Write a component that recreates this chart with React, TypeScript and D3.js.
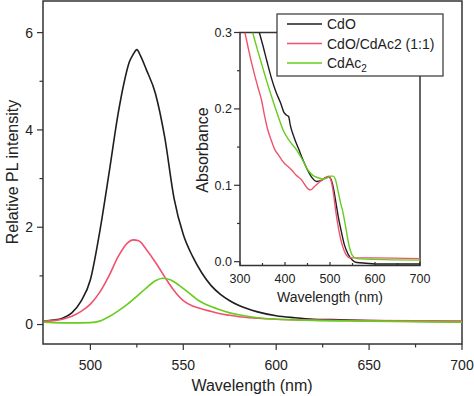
import React from "react";
import * as d3 from "d3";

// main PL spectra (nm, relative intensity)
const plCdO: [number, number][] = [
  [475, 0.07], [480, 0.09], [485, 0.13], [490, 0.24], [495, 0.48], [500, 0.92], [505, 1.9],
  [510, 3.1], [515, 4.35], [518, 4.95], [521, 5.4], [523, 5.55], [525, 5.65], [527, 5.52],
  [530, 5.25], [535, 4.75], [540, 3.85], [545, 2.6], [550, 1.85], [555, 1.4], [560, 1.06],
  [565, 0.8], [570, 0.62], [575, 0.49], [580, 0.39], [590, 0.26], [600, 0.18], [610, 0.14],
  [620, 0.11], [630, 0.1], [650, 0.08], [670, 0.07], [700, 0.06],
];
const plMix: [number, number][] = [
  [475, 0.07], [480, 0.08], [485, 0.11], [490, 0.17], [495, 0.27], [500, 0.42], [505, 0.66],
  [510, 1.0], [515, 1.4], [520, 1.68], [523, 1.74], [526, 1.72], [530, 1.55], [535, 1.28],
  [540, 0.98], [545, 0.7], [550, 0.49], [555, 0.38], [560, 0.32], [565, 0.27], [570, 0.22],
  [575, 0.19], [580, 0.16], [590, 0.13], [600, 0.11], [620, 0.09], [650, 0.08], [700, 0.07],
];
const plCdAc: [number, number][] = [
  [475, 0.05], [480, 0.04], [490, 0.035], [500, 0.04], [505, 0.07], [510, 0.16], [515, 0.28],
  [520, 0.42], [525, 0.58], [530, 0.75], [535, 0.9], [539, 0.95], [543, 0.92], [548, 0.8],
  [553, 0.65], [558, 0.5], [563, 0.4], [570, 0.3], [575, 0.24], [580, 0.2], [590, 0.14],
  [600, 0.11], [620, 0.085], [650, 0.07], [700, 0.05],
];

// inset absorbance spectra (nm, absorbance)
const absCdO: [number, number][] = [
  [343, 0.3], [350, 0.285], [360, 0.262], [370, 0.24], [380, 0.222], [390, 0.208], [398, 0.195],
  [403, 0.192], [408, 0.19], [412, 0.178], [420, 0.163], [430, 0.148], [440, 0.133], [450, 0.12],
  [460, 0.11], [470, 0.105], [480, 0.106], [490, 0.11], [497, 0.111], [502, 0.108], [508, 0.095],
  [513, 0.078], [518, 0.06], [525, 0.04], [532, 0.022], [540, 0.01], [550, 0.002], [560, -0.001],
  [580, -0.002], [600, -0.003], [700, -0.003],
];
const absMix: [number, number][] = [
  [311, 0.3], [320, 0.275], [330, 0.25], [340, 0.228], [348, 0.211], [355, 0.19], [362, 0.172],
  [370, 0.158], [378, 0.146], [385, 0.14], [393, 0.133], [400, 0.128], [408, 0.124], [415, 0.12],
  [425, 0.113], [437, 0.107], [445, 0.1], [452, 0.095], [457, 0.094], [465, 0.098], [478, 0.105],
  [490, 0.11], [498, 0.112], [503, 0.105], [508, 0.088], [513, 0.065], [520, 0.04], [527, 0.022],
  [535, 0.01], [545, 0.005], [560, 0.005], [600, 0.005], [700, 0.004],
];
const absCdAc: [number, number][] = [
  [328, 0.3], [340, 0.275], [350, 0.255], [360, 0.235], [373, 0.211], [385, 0.19], [396, 0.172],
  [410, 0.158], [426, 0.146], [440, 0.132], [451, 0.12], [462, 0.113], [473, 0.11], [485, 0.108],
  [495, 0.11], [502, 0.112], [507, 0.112], [512, 0.108], [517, 0.095], [523, 0.078], [529, 0.064],
  [535, 0.045], [540, 0.028], [545, 0.015], [550, 0.008], [560, 0.004], [600, 0.003], [700, 0.002],
];

const xTicks = [500, 550, 600, 650, 700];
const xMinor = [525, 575, 625, 675];
const yTicks = [0, 2, 4, 6];
const yMinor = [1, 3, 5];
const inXTicks = [300, 400, 500, 600, 700];
const inXMinor = [350, 450, 550, 650];
const inYTicks = [0, 0.1, 0.2, 0.3];
const inYMinor = [0.05, 0.15, 0.25];

const seriesNames = ["CdO", "CdO/CdAc2 (1:1)", "CdAc2"];
const colors = ["#1e1e1e", "#f0526e", "#66cc1e"];

const font = "'Liberation Sans', Arial, sans-serif";
const axisColor = "#333";

export default function App() {
  const x = d3.scaleLinear().domain([474.5, 700]).range([43, 462]);
  const y = d3.scaleLinear().domain([-0.4, 6.65]).range([344, 1]);
  const ix = d3.scaleLinear().domain([300, 700]).range([240, 420]);
  const iy = d3.scaleLinear().domain([-0.005, 0.3]).range([265.5, 32.5]);

  const line = d3.line<[number, number]>()
    .x(d => x(d[0]))
    .y(d => y(d[1]))
    .curve(d3.curveMonotoneX);
  const iline = d3.line<[number, number]>()
    .x(d => ix(d[0]))
    .y(d => iy(d[1]))
    .curve(d3.curveMonotoneX);

  const pl = [plCdO, plMix, plCdAc];
  const abs = [absCdO, absMix, absCdAc];

  return (
    <svg width={474} height={396} style={{ position: "absolute", left: 0, top: 0, background: "#fff" }}
      fontFamily={font}>
      <defs>
        <clipPath id="mainClip"><rect x={43} y={1} width={419} height={343} /></clipPath>
        <clipPath id="inClip"><rect x={240} y={32.5} width={180} height={233} /></clipPath>
      </defs>

      {/* main frame */}
      <rect x={43} y={1} width={419} height={343} fill="none" stroke={axisColor} strokeWidth={1.5} />

      <g clipPath="url(#mainClip)">
        {pl.map((d, i) => (
          <path key={i} d={line(d) || ""} fill="none" stroke={colors[i]} strokeWidth={1.6} />
        ))}
      </g>

      {/* main x axis */}
      {xTicks.map(t => (
        <g key={t}>
          <line x1={x(t)} x2={x(t)} y1={344} y2={350} stroke={axisColor} strokeWidth={1.2} />
          <text x={x(t)} y={370} textAnchor="middle" fontSize={14} fill="#222">{t}</text>
        </g>
      ))}
      {xMinor.map(t => (
        <line key={t} x1={x(t)} x2={x(t)} y1={344} y2={347.5} stroke={axisColor} strokeWidth={1.2} />
      ))}
      <text x={252} y={391} textAnchor="middle" fontSize={16} fill="#222">Wavelength (nm)</text>

      {/* main y axis */}
      {yTicks.map(t => (
        <g key={t}>
          <line x1={37} x2={43} y1={y(t)} y2={y(t)} stroke={axisColor} strokeWidth={1.2} />
          <text x={33} y={y(t)} dy="0.35em" textAnchor="end" fontSize={14} fill="#222">{t}</text>
        </g>
      ))}
      {yMinor.map(t => (
        <line key={t} x1={39.5} x2={43} y1={y(t)} y2={y(t)} stroke={axisColor} strokeWidth={1.2} />
      ))}
      <text transform="translate(18,172) rotate(-90)" textAnchor="middle" fontSize={16} fill="#222">
        Relative PL intensity
      </text>

      {/* inset */}
      <rect x={240} y={32.5} width={180} height={233} fill="#fff" stroke={axisColor} strokeWidth={1.5} />
      <g clipPath="url(#inClip)">
        {abs.map((d, i) => (
          <path key={i} d={iline(d) || ""} fill="none" stroke={colors[i]} strokeWidth={1.4} />
        ))}
      </g>
      {inXTicks.map(t => (
        <g key={t}>
          <line x1={ix(t)} x2={ix(t)} y1={265.5} y2={262} stroke={axisColor} strokeWidth={1.2} />
          <text x={ix(t)} y={283} textAnchor="middle" fontSize={12.5} fill="#222">{t}</text>
        </g>
      ))}
      {inXMinor.map(t => (
        <line key={t} x1={ix(t)} x2={ix(t)} y1={265.5} y2={263} stroke={axisColor} strokeWidth={1.2} />
      ))}
      <text x={330} y={302} textAnchor="middle" fontSize={14} fill="#222">Wavelength (nm)</text>
      {inYTicks.map(t => (
        <g key={t}>
          <line x1={234} x2={240} y1={iy(t)} y2={iy(t)} stroke={axisColor} strokeWidth={1.2} />
          <text x={232} y={iy(t)} dy="0.35em" textAnchor="end" fontSize={12.5} fill="#222">
            {d3.format(".1f")(t)}
          </text>
        </g>
      ))}
      {inYMinor.map(t => (
        <line key={t} x1={237} x2={240} y1={iy(t)} y2={iy(t)} stroke={axisColor} strokeWidth={1.2} />
      ))}
      <text transform="translate(208,150) rotate(-90)" textAnchor="middle" fontSize={16} fill="#222">
        Absorbance
      </text>

      {/* legend */}
      <rect x={277} y={14} width={166} height={62} fill="#fff" stroke={axisColor} strokeWidth={1.2} />
      {seriesNames.map((name, i) => (
        <g key={name} transform={`translate(0,${24 + i * 19.5})`}>
          <line x1={287} x2={322} y1={0} y2={0} stroke={colors[i]} strokeWidth={1.5} />
          <text x={327} y={0} dy="0.36em" fontSize={14} fill="#222">
            {name === "CdAc2" ? (
              <>CdAc<tspan fontSize={10} dy="4">2</tspan></>
            ) : name}
          </text>
        </g>
      ))}
    </svg>
  );
}
